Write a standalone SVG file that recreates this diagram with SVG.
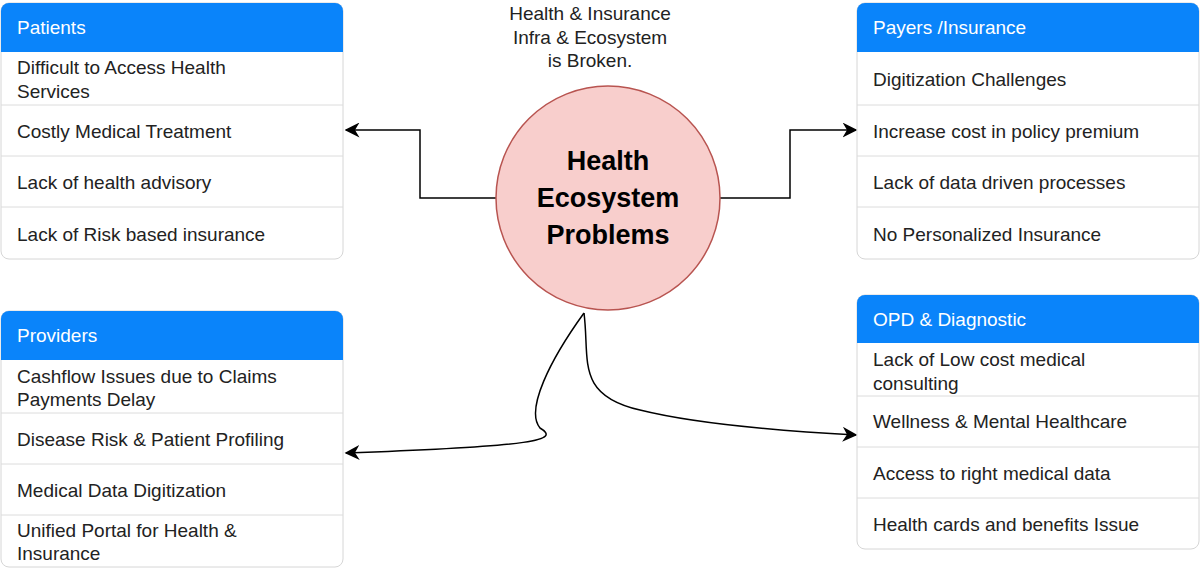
<svg xmlns="http://www.w3.org/2000/svg" width="1200" height="568" viewBox="0 0 1200 568">
<style>
.box{fill:#fff;stroke:#d6d6d6;stroke-width:1}
.hd{fill:#0a84fa}
.sep{stroke:#dcdcdc;stroke-width:1}
.ht{font-family:"Liberation Sans",Arial,sans-serif;font-size:19px;fill:#fff}
.t{font-family:"Liberation Sans",Arial,sans-serif;font-size:19px;fill:#222}
.c{fill:none;stroke:#000;stroke-width:2;marker-end:url(#a)}
</style>
<defs>
<marker id="a" viewBox="0 0 10 10" refX="9" refY="5" markerWidth="7" markerHeight="7" orient="auto" markerUnits="userSpaceOnUse"><path d="M0,0 L10,5 L0,10 L3,5 z" fill="#000"/></marker>
<marker id="a2" viewBox="0 0 10 10" refX="9" refY="5" markerWidth="10" markerHeight="10" orient="auto"><path d="M0,0 L10,5 L0,10 L3,5 z" fill="#000"/></marker>
</defs>
<g id="connectors">
<path class="c" style="marker-end:url(#a2);stroke-width:1.5" d="M496,198 H420 V130 H346"/>
<path class="c" style="marker-end:url(#a2);stroke-width:1.5" d="M720,198 H790 V130 H856"/>
<path class="c" style="marker-end:url(#a2);stroke-width:1.5" d="M584,313 C550,360 525,410 540,428 C560,440 540,446 346,453"/>
<path class="c" style="marker-end:url(#a2);stroke-width:1.5" d="M584,313 C590,360 575,395 640,410 C700,425 800,432 856,435"/>
</g>
<g id="center">
<circle cx="608" cy="198" r="112" fill="#f8cecc" stroke="#b85450" stroke-width="1.5"/>
<text x="608" y="170" text-anchor="middle" font-family="Liberation Sans,Arial,sans-serif" font-size="27" font-weight="bold">Health</text>
<text x="608" y="207" text-anchor="middle" font-family="Liberation Sans,Arial,sans-serif" font-size="27" font-weight="bold">Ecosystem</text>
<text x="608" y="244" text-anchor="middle" font-family="Liberation Sans,Arial,sans-serif" font-size="27" font-weight="bold">Problems</text>
</g>
<g id="note">
<text class="t" x="590" y="20" text-anchor="middle">Health &amp; Insurance</text>
<text class="t" x="590" y="44" text-anchor="middle">Infra &amp; Ecosystem</text>
<text class="t" x="590" y="67" text-anchor="middle">is Broken.</text>
</g>
<g id="patients">
<rect class="box" x="1" y="3" width="342" height="256" rx="8"/>
<path class="hd" d="M1,11 a8,8 0 0 1 8,-8 H335 a8,8 0 0 1 8,8 V52 H1 z"/>
<text class="ht" x="17" y="34">Patients</text>
<line class="sep" x1="1" y1="105" x2="343" y2="105"/><line class="sep" x1="1" y1="156" x2="343" y2="156"/><line class="sep" x1="1" y1="207" x2="343" y2="207"/>
<text class="t" x="17" y="74">Difficult to Access Health</text>
<text class="t" x="17" y="98">Services</text>
<text class="t" x="17" y="138">Costly Medical Treatment</text>
<text class="t" x="17" y="189">Lack of health advisory</text>
<text class="t" x="17" y="241">Lack of Risk based insurance</text>
</g>
<g id="payers">
<rect class="box" x="857" y="3" width="342" height="256" rx="8"/>
<path class="hd" d="M857,11 a8,8 0 0 1 8,-8 H1191 a8,8 0 0 1 8,8 V52 H857 z"/>
<text class="ht" x="873" y="34">Payers /Insurance</text>
<line class="sep" x1="857" y1="105" x2="1199" y2="105"/><line class="sep" x1="857" y1="156" x2="1199" y2="156"/><line class="sep" x1="857" y1="207" x2="1199" y2="207"/>
<text class="t" x="873" y="86">Digitization Challenges</text>
<text class="t" x="873" y="138">Increase cost in policy premium</text>
<text class="t" x="873" y="189">Lack of data driven processes</text>
<text class="t" x="873" y="241">No Personalized Insurance</text>
</g>
<g id="providers">
<rect class="box" x="1" y="311" width="342" height="256" rx="8"/>
<path class="hd" d="M1,319 a8,8 0 0 1 8,-8 H335 a8,8 0 0 1 8,8 V360 H1 z"/>
<text class="ht" x="17" y="342">Providers</text>
<line class="sep" x1="1" y1="413" x2="343" y2="413"/><line class="sep" x1="1" y1="464" x2="343" y2="464"/><line class="sep" x1="1" y1="515" x2="343" y2="515"/>
<text class="t" x="17" y="383">Cashflow Issues due to Claims</text>
<text class="t" x="17" y="406">Payments Delay</text>
<text class="t" x="17" y="446">Disease Risk &amp; Patient Profiling</text>
<text class="t" x="17" y="497">Medical Data Digitization</text>
<text class="t" x="17" y="537">Unified Portal for Health &amp;</text>
<text class="t" x="17" y="560">Insurance</text>
</g>
<g id="opd">
<rect class="box" x="857" y="295" width="342" height="254" rx="8"/>
<path class="hd" d="M857,303 a8,8 0 0 1 8,-8 H1191 a8,8 0 0 1 8,8 V343 H857 z"/>
<text class="ht" x="873" y="326">OPD &amp; Diagnostic</text>
<line class="sep" x1="857" y1="396" x2="1199" y2="396"/><line class="sep" x1="857" y1="447" x2="1199" y2="447"/><line class="sep" x1="857" y1="498" x2="1199" y2="498"/>
<text class="t" x="873" y="366">Lack of Low cost medical</text>
<text class="t" x="873" y="390">consulting</text>
<text class="t" x="873" y="428">Wellness &amp; Mental Healthcare</text>
<text class="t" x="873" y="480">Access to right medical data</text>
<text class="t" x="873" y="531">Health cards and benefits Issue</text>
</g>
</svg>
